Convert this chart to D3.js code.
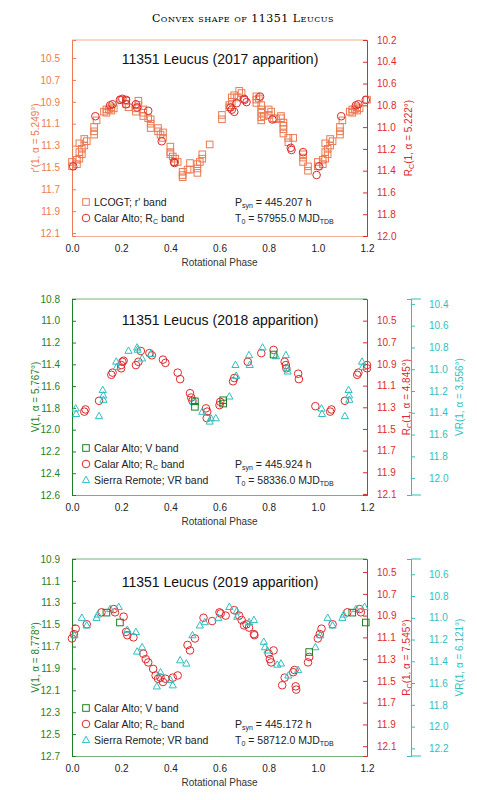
<!DOCTYPE html>
<html><head><meta charset="utf-8">
<script src="https://cdn.jsdelivr.net/npm/d3@7"></script>
<style>body{margin:0;background:#fff}text{font-family:"Liberation Sans",Arial,sans-serif}</style>
</head><body>
<svg id="chart" width="477" height="800"></svg>
<script>
// phase / magnitude (phase 0..1, repeated into 1..1.2)
var p17_lco = [[0,11.45],[0,11.49],[0.02,11.43],[0.02,11.47],[0.03,11.36],[0.03,11.28],[0.03,11.42],[0.04,11.33],[0.04,11.38],[0.05,11.24],[0.05,11.30],[0.06,11.26],[0.09,11.13],[0.09,11.17],[0.09,11.20],[0.10,11.07],[0.13,10.99],[0.14,10.97],[0.14,11.00],[0.15,10.97],[0.16,10.95],[0.16,10.98],[0.17,10.96],[0.20,10.88],[0.22,10.92],[0.22,10.89],[0.23,10.95],[0.26,10.96],[0.26,10.99],[0.27,10.89],[0.27,10.93],[0.29,10.97],[0.29,11.00],[0.29,11.03],[0.31,11.05],[0.32,11.06],[0.32,11.10],[0.32,11.14],[0.35,11.14],[0.35,11.17],[0.36,11.20],[0.37,11.18],[0.37,11.23],[0.40,11.31],[0.40,11.36],[0.40,11.38],[0.41,11.40],[0.42,11.42],[0.43,11.45],[0.45,11.54],[0.45,11.57],[0.45,11.59],[0.47,11.52],[0.48,11.46],[0.48,11.52],[0.51,11.47],[0.51,11.51],[0.51,11.55],[0.52,11.45],[0.53,11.42],[0.53,11.38],[0.56,11.29],[0.61,11.02],[0.61,11.06],[0.64,10.93],[0.64,10.95],[0.65,10.90],[0.65,10.86],[0.66,10.84],[0.67,10.86],[0.68,10.80],[0.69,10.82],[0.75,10.85],[0.75,10.88],[0.75,10.91],[0.76,10.87],[0.77,10.93],[0.77,10.97],[0.77,11.00],[0.77,11.04],[0.77,11.07],[0.78,11.03],[0.80,10.97],[0.80,11.02],[0.81,10.99],[0.82,11.05],[0.83,11.06],[0.85,11.05],[0.85,11.03],[0.86,11.09],[0.86,11.12],[0.86,11.15],[0.86,11.19],[0.88,11.27],[0.88,11.23],[0.90,11.23],[0.94,11.41],[0.94,11.45],[0.94,11.38],[0.96,11.49],[0.96,11.53]];
var p17_rc = [[0.005,11.36],[0.095,10.90],[0.155,10.80],[0.165,10.79],[0.195,10.75],[0.205,10.74],[0.22,10.75],[0.22,10.79],[0.26,10.79],[0.265,10.82],[0.31,10.85],[0.365,11.13],[0.415,11.32],[0.417,11.33],[0.645,10.82],[0.65,10.84],[0.66,10.86],[0.67,10.78],[0.70,10.74],[0.702,10.75],[0.71,10.77],[0.765,10.72],[0.815,10.93],[0.89,11.19],[0.893,11.21],[0.94,11.23],[0.995,11.44]];

var p18_v = [[0.50,11.74],[0.50,11.79],[0.615,11.73],[0.615,11.76],[0.82,11.31]];
var p18_rc = [[0.05,11.34],[0.055,11.32],[0.11,11.24],[0.16,11.00],[0.165,10.98],[0.20,10.94],[0.205,10.88],[0.21,10.87],[0.20,10.91],[0.26,10.91],[0.27,10.88],[0.28,10.78],[0.315,10.80],[0.325,10.82],[0.37,10.86],[0.38,10.89],[0.43,10.98],[0.44,11.04],[0.48,11.17],[0.485,11.21],[0.49,11.24],[0.545,11.31],[0.55,11.34],[0.548,11.40],[0.60,11.28],[0.603,11.25],[0.655,11.06],[0.66,11.03],[0.715,10.88],[0.77,10.80],[0.82,10.77],[0.865,10.88],[0.87,10.91],[0.872,10.94],[0.92,10.99],[0.923,11.04],[0.99,11.29]];
var p18_vr = [[0.015,11.36],[0.017,11.41],[0.11,11.43],[0.125,11.19],[0.127,11.24],[0.128,11.28],[0.18,10.93],[0.182,10.98],[0.23,10.83],[0.265,10.80],[0.267,10.82],[0.285,10.90],[0.32,10.86],[0.495,11.30],[0.53,11.39],[0.56,11.48],[0.565,11.45],[0.585,11.45],[0.64,11.25],[0.665,10.96],[0.668,11.06],[0.72,10.87],[0.723,10.96],[0.775,10.80],[0.83,10.88],[0.87,10.87],[0.875,10.99],[0.877,11.02]];

var p19_v = [[0.14,11.39],[0.195,11.48],[0.965,11.75]];
var p19_rc = [[0,11.11],[0.008,11.07],[0.015,11.02],[0.06,10.98],[0.12,10.87],[0.17,10.84],[0.175,10.87],[0.21,10.91],[0.22,11.05],[0.225,11.08],[0.25,11.10],[0.29,11.25],[0.30,11.30],[0.31,11.33],[0.33,11.39],[0.34,11.45],[0.35,11.48],[0.36,11.47],[0.37,11.51],[0.38,11.48],[0.41,11.47],[0.43,11.45],[0.47,11.17],[0.48,11.22],[0.50,11.11],[0.535,10.92],[0.57,10.95],[0.60,10.87],[0.605,10.88],[0.625,10.90],[0.66,10.85],[0.68,10.90],[0.69,10.94],[0.70,10.99],[0.71,10.98],[0.72,11.01],[0.74,11.07],[0.742,11.08],[0.80,11.25],[0.805,11.30],[0.81,11.33],[0.82,11.22],[0.855,11.54],[0.865,11.47],[0.90,11.42],[0.905,11.40],[0.91,11.55],[0.912,11.58],[0.96,11.33],[0.965,11.28]];
var p19_vr = [[0.01,11.16],[0.04,11.00],[0.06,11.07],[0.10,11.00],[0.105,10.97],[0.155,10.92],[0.19,10.90],[0.225,11.11],[0.26,11.13],[0.265,11.31],[0.285,11.27],[0.345,11.63],[0.36,11.50],[0.40,11.57],[0.41,11.62],[0.44,11.39],[0.465,11.42],[0.49,11.16],[0.52,11.07],[0.54,11.04],[0.595,11.00],[0.64,10.90],[0.67,10.94],[0.672,10.99],[0.72,11.04],[0.74,11.02],[0.78,11.22],[0.785,11.27],[0.795,11.30],[0.835,11.43],[0.85,11.42],[0.88,11.53],[0.92,11.48],[0.99,11.27]];

var phaseTicks = [0, 0.2, 0.4, 0.6, 0.8, 1.0, 1.2];

var C_LCO = '#ec7a52', C_RC = '#dc2a2e', C_V = '#1f7f26', C_VR = '#2fbfbf';

var svg = d3.select('#chart');
svg.append('text').attr('x', 243).attr('y', 22).attr('text-anchor', 'middle')
    .style('font-family', '"DejaVu Serif",serif').style('font-size', '11px').style('font-variant', 'small-caps')
    .style('letter-spacing', '0.5px').text('Convex shape of 11351 Leucus');

function fold(arr) {
    var out = arr.slice();
    arr.forEach(function (d) { if (d[0] + 1 <= 1.2) out.push([d[0] + 1, d[1]]); });
    return out;
}

function marker(g, type, color, x, y) {
    if (type == 'sq') g.append('rect').attr('x', x - 3.3).attr('y', y - 3.3).attr('width', 6.6).attr('height', 6.6)
        .attr('fill', 'none').attr('stroke', color).attr('stroke-width', 1);
    else if (type == 'ci') g.append('circle').attr('cx', x).attr('cy', y).attr('r', 3.8)
        .attr('fill', 'none').attr('stroke', color).attr('stroke-width', 1);
    else g.append('path').attr('d', 'M' + x + ',' + (y - 3.8) + 'L' + (x + 3.6) + ',' + (y + 2.6) + 'L' + (x - 3.6) + ',' + (y + 2.6) + 'Z')
        .attr('fill', 'none').attr('stroke', color).attr('stroke-width', 1);
}

function yAxis(g, scale, ticks, color, x, side, label, labelX, pad) {
    var ax = (side == 'left' ? d3.axisLeft(scale) : d3.axisRight(scale))
        .tickValues(ticks).tickFormat(d3.format('.1f')).tickSize(-4).tickPadding(pad);
    var a = g.append('g').attr('transform', 'translate(' + x + ',0)').call(ax);
    a.select('.domain').attr('stroke', color);
    a.selectAll('line').attr('stroke', color);
    a.selectAll('text').attr('fill', color).style('font-size', '10px');
    var r = scale.range();
    g.append('text').attr('transform', 'translate(' + labelX + ',' + (r[0] + r[1]) / 2 + ') rotate(-90)')
        .attr('text-anchor', 'middle').attr('fill', color).style('font-size', '10px').html(label);
    return a;
}

function panel(cfg) {
    var L = 72, R = 367, T = cfg.top, B = cfg.bottom;
    var g = svg.append('g');
    var x = d3.scaleLinear().domain([0, 1.2]).range([L, R]);
    var yL = d3.scaleLinear().domain(cfg.left.domain).range([T, B]);
    var yR = d3.scaleLinear().domain(cfg.right.domain).range([T, B]);

    g.append('line').attr('x1', L).attr('x2', R).attr('y1', T).attr('y2', T).attr('stroke', cfg.left.color).attr('stroke-opacity', 0.6);
    var xa = g.append('g').attr('transform', 'translate(0,' + B + ')')
        .call(d3.axisBottom(x).tickValues(phaseTicks).tickFormat(d3.format('.1f')).tickSize(0).tickPadding(9));
    xa.select('.domain').attr('stroke', cfg.left.color).attr('stroke-opacity', 0.6);
    xa.selectAll('text').attr('fill', '#222').style('font-size', '10px');
    g.append('text').attr('x', (L + R) / 2).attr('y', B + 30).attr('text-anchor', 'middle')
        .attr('fill', '#333').style('font-size', '10px').text('Rotational Phase');

    yAxis(g, yL, cfg.left.ticks, cfg.left.color, L, 'left', cfg.left.label, 39, 12);
    yAxis(g, yR, cfg.right.ticks, cfg.right.color, R, 'right', cfg.right.label, cfg.right.labelX, 10);
    if (cfg.vr) {
        var yV = d3.scaleLinear().domain(cfg.vr.domain).range([T, B]);
        var va = yAxis(g, yV, cfg.vr.ticks, cfg.vr.color, 411, 'right', cfg.vr.label, 463, 18);
        va.selectAll('.tick line').attr('x2', 4);
        g.append('line').attr('x1', 411).attr('x2', 421).attr('y1', T).attr('y2', T).attr('stroke', cfg.vr.color);
        g.append('line').attr('x1', 411).attr('x2', 421).attr('y1', B).attr('y2', B).attr('stroke', cfg.vr.color);
        cfg.vrScale = yV;
    }

    g.append('text').attr('x', 220).attr('y', T + (cfg.titleDy || 26)).attr('text-anchor', 'middle')
        .attr('fill', '#111').style('font-size', '14px').text(cfg.title);

    cfg.series.forEach(function (s) {
        var sc = s.axis == 'left' ? yL : (s.axis == 'right' ? yR : cfg.vrScale);
        fold(s.data).forEach(function (d) { marker(g, s.type, s.color, x(d[0]), sc(d[1])); });
    });

    cfg.legend.forEach(function (s, i) {
        var yy = cfg.legendY + i * 16;
        marker(g, s.type, s.color, 86, yy);
        g.append('text').attr('x', 94).attr('y', yy + 4).attr('fill', '#222').style('font-size', '10.5px').html(s.name);
    });
    var n = cfg.legend.length;
    g.append('text').attr('x', 235).attr('y', cfg.legendY + (n - 2) * 16 + 4).attr('fill', '#222').style('font-size', '10.5px')
        .html('P<tspan font-size="7" dy="2">syn</tspan><tspan dy="-2"> = ' + cfg.psyn + ' h</tspan>');
    g.append('text').attr('x', 235).attr('y', cfg.legendY + (n - 1) * 16 + 4).attr('fill', '#222').style('font-size', '10.5px')
        .html('T<tspan font-size="7" dy="2">0</tspan><tspan dy="-2"> = ' + cfg.t0 + ' MJD</tspan><tspan font-size="7" dy="2">TDB</tspan>');
}

var RC_LBL = 'R<tspan font-size="7" dy="2">C</tspan><tspan dy="-2">';

panel({
    top: 40, bottom: 236, title: '11351 Leucus (2017 apparition)', titleDy: 24,
    left: { domain: [10.335, 12.127], ticks: d3.range(10.5, 12.15, 0.2), color: C_LCO, label: "r'(1, α = 5.249°)" },
    right: { domain: [10.2, 12.0], ticks: d3.range(10.2, 12.05, 0.2), color: C_RC, label: RC_LBL + '(1, α = 5.222°)</tspan>', labelX: 412 },
    series: [{ data: p17_lco, type: 'sq', color: C_LCO, axis: 'left' }, { data: p17_rc, type: 'ci', color: C_RC, axis: 'right' }],
    legend: [{ type: 'sq', color: C_LCO, name: "LCOGT; r' band" }, { type: 'ci', color: C_RC, name: 'Calar Alto; R<tspan font-size="7" dy="2">C</tspan><tspan dy="-2"> band</tspan>' }],
    legendY: 202, psyn: '445.207', t0: '57955.0'
});

panel({
    top: 299, bottom: 495, title: '11351 Leucus (2018 apparition)', titleDy: 26,
    left: { domain: [10.8, 12.6], ticks: d3.range(10.8, 12.65, 0.2), color: C_V, label: 'V(1, α = 5.767°)' },
    right: { domain: [10.3, 12.11], ticks: d3.range(10.5, 12.15, 0.2), color: C_RC, label: RC_LBL + '(1, α = 4.845°)</tspan>', labelX: 410 },
    vr: { domain: [10.355, 12.155], ticks: d3.range(10.4, 12.05, 0.2), color: C_VR, label: 'VR(1, α = 3.556°)' },
    series: [{ data: p18_rc, type: 'ci', color: C_RC, axis: 'right' }, { data: p18_vr, type: 'tr', color: C_VR, axis: 'vr' }, { data: p18_v, type: 'sq', color: C_V, axis: 'left' }],
    legend: [{ type: 'sq', color: C_V, name: 'Calar Alto; V band' }, { type: 'ci', color: C_RC, name: 'Calar Alto; R<tspan font-size="7" dy="2">C</tspan><tspan dy="-2"> band</tspan>' }, { type: 'tr', color: C_VR, name: 'Sierra Remote; VR band' }],
    legendY: 448, psyn: '445.924', t0: '58336.0'
});

panel({
    top: 559, bottom: 756, title: '11351 Leucus (2019 apparition)', titleDy: 28,
    left: { domain: [10.9, 12.7], ticks: d3.range(10.9, 12.75, 0.2), color: C_V, label: 'V(1, α = 8.778°)' },
    right: { domain: [10.38, 12.19], ticks: d3.range(10.5, 12.15, 0.2), color: C_RC, label: RC_LBL + '(1, α = 7.545°)</tspan>', labelX: 410 },
    vr: { domain: [10.46, 12.27], ticks: d3.range(10.6, 12.25, 0.2), color: C_VR, label: 'VR(1, α = 6.121°)' },
    series: [{ data: p19_rc, type: 'ci', color: C_RC, axis: 'right' }, { data: p19_vr, type: 'tr', color: C_VR, axis: 'vr' }, { data: p19_v, type: 'sq', color: C_V, axis: 'left' }],
    legend: [{ type: 'sq', color: C_V, name: 'Calar Alto; V band' }, { type: 'ci', color: C_RC, name: 'Calar Alto; R<tspan font-size="7" dy="2">C</tspan><tspan dy="-2"> band</tspan>' }, { type: 'tr', color: C_VR, name: 'Sierra Remote; VR band' }],
    legendY: 708, psyn: '445.172', t0: '58712.0'
});
</script>
</body></html>
